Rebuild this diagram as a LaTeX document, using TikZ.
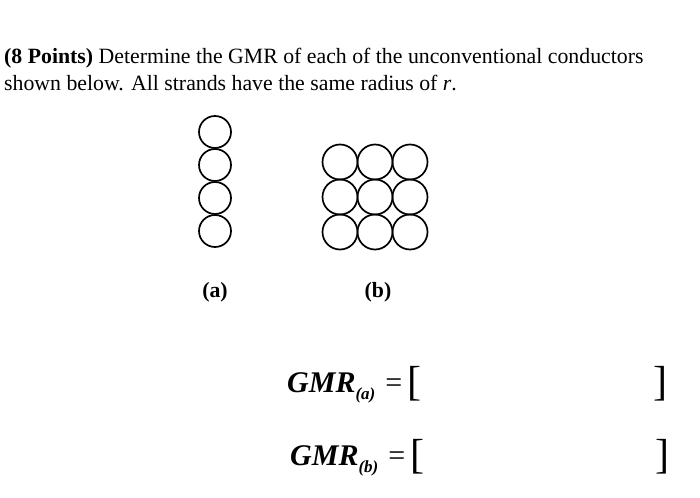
\documentclass[tikz,border=0pt]{standalone}
\usepackage{fontspec}
\setmainfont{Liberation Serif}
\newcommand{\gmrlab}[1]{\textbf{\textit{GMR}}\raisebox{-7pt}{\fontsize{17}{19}\selectfont\textbf{\textit{(#1)}}}\,\,=\,\raisebox{-3pt}{\fontsize{42}{44}\selectfont[}}
\begin{document}
\begin{tikzpicture}[x=1pt,y=-1pt,
  strand/.style={draw,line width=1.7pt,circle,minimum size=32pt,inner sep=0pt},
  strandb/.style={draw,line width=1.7pt,circle,minimum size=35pt,inner sep=0pt},
  txt/.style={inner sep=0pt,font=\fontsize{21.8}{26}\selectfont},
  big/.style={inner sep=0pt,font=\fontsize{30}{34}\selectfont}]
\useasboundingbox (0,0) rectangle (700,497);
\node[txt,anchor=base west] (l1) at (4,64) {\textbf{(8 Points)} Determine the GMR of each of the unconventional conductors};
\node[txt,anchor=base west] (l2) at (4,91) {shown below. All strands have the same radius of \textit{r}.};
\foreach \i/\y in {1/132,2/165,3/198,4/231} \node[strand] (a\i) at (215,\y) {};
\foreach \r/\y in {1/162,2/197,3/232}
  \foreach \c/\x in {1/340,2/375,3/410}
    \node[strandb] (b\r\c) at (\x,\y) {};
\node[txt,anchor=base] (la) at (215,297) {\textbf{(a)}};
\node[txt,anchor=base] (lb) at (378,297) {\textbf{(b)}};
\node[big,anchor=base west] (g1) at (287,392) {\gmrlab{a}};
\node[big,anchor=base] (r1) at (660,392) {\raisebox{-3pt}{\fontsize{42}{44}\selectfont]}};
\node[big,anchor=base west] (g2) at (290,465) {\gmrlab{b}};
\node[big,anchor=base] (r2) at (662,465) {\raisebox{-3pt}{\fontsize{42}{44}\selectfont]}};
\end{tikzpicture}
\end{document}
